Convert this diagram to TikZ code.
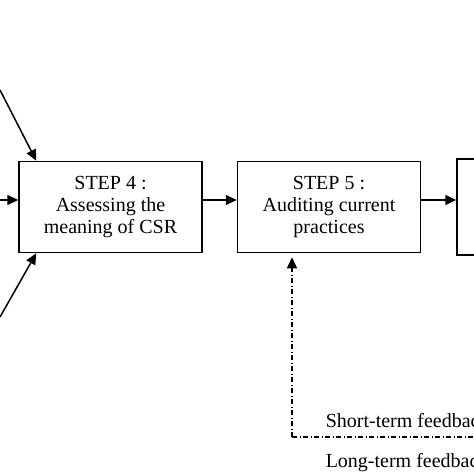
\documentclass[tikz,border=0pt]{standalone}
\usepackage{fontspec}
\setmainfont{Liberation Serif}
\usetikzlibrary{arrows.meta, positioning}

\begin{document}
\begin{tikzpicture}[x=1pt, y=-1pt, >={Triangle[length=11pt,width=10pt]}, line width=1.5pt,
    stepbox/.style={draw, minimum width=183pt, minimum height=91pt, align=center,
        inner sep=0pt, font=\fontsize{20}{22}\selectfont},
    fblabel/.style={anchor=base west, inner sep=0pt, font=\fontsize{20}{22}\selectfont},
    feedback/.style={line width=1.3pt, dash pattern=on 5pt off 2.5pt on 1pt off 2.5pt}]
    \useasboundingbox (0,0) rectangle (474,474);
    \clip (0,0) rectangle (474,474);

    % Nodes
    \node[stepbox] (step4) at (110.5,207) {STEP 4 :\\Assessing the\\meaning of CSR};
    \node[stepbox] (step5) at (329,207) {STEP 5 :\\Auditing current\\practices};
    \node[stepbox, minimum height=96pt] (step6) at (548.5,207) {};

    \coordinate (in1) at (0,90);
    \coordinate (in2) at (0,200);
    \coordinate (in3) at (0,317);
    \coordinate (fbcorner) at (292,437);
    \coordinate (fbend) at (480,437);

    \node[fblabel] (shortfb) at (325,427) {Short-term feedback};
    \node[fblabel] (longfb) at (325,467) {Long-term feedback};

    % Paths
    \draw[->] (in1) -- ([xshift=18pt]step4.north west);
    \draw[->] (in2) -- (in2 -| step4.west);
    \draw[->] (in3) -- ([xshift=18pt]step4.south west);

    \draw[->] ([yshift=7pt]step4.east) -- ([yshift=7pt]step5.west);
    \draw[->] ([yshift=7pt]step5.east) -- ([yshift=7pt]step6.west);

    \draw[->, feedback] (fbcorner) -- ([yshift=-4pt]step5.south -| fbcorner);
    \draw[feedback] (fbcorner) -- (fbend);
\end{tikzpicture}
\end{document}
